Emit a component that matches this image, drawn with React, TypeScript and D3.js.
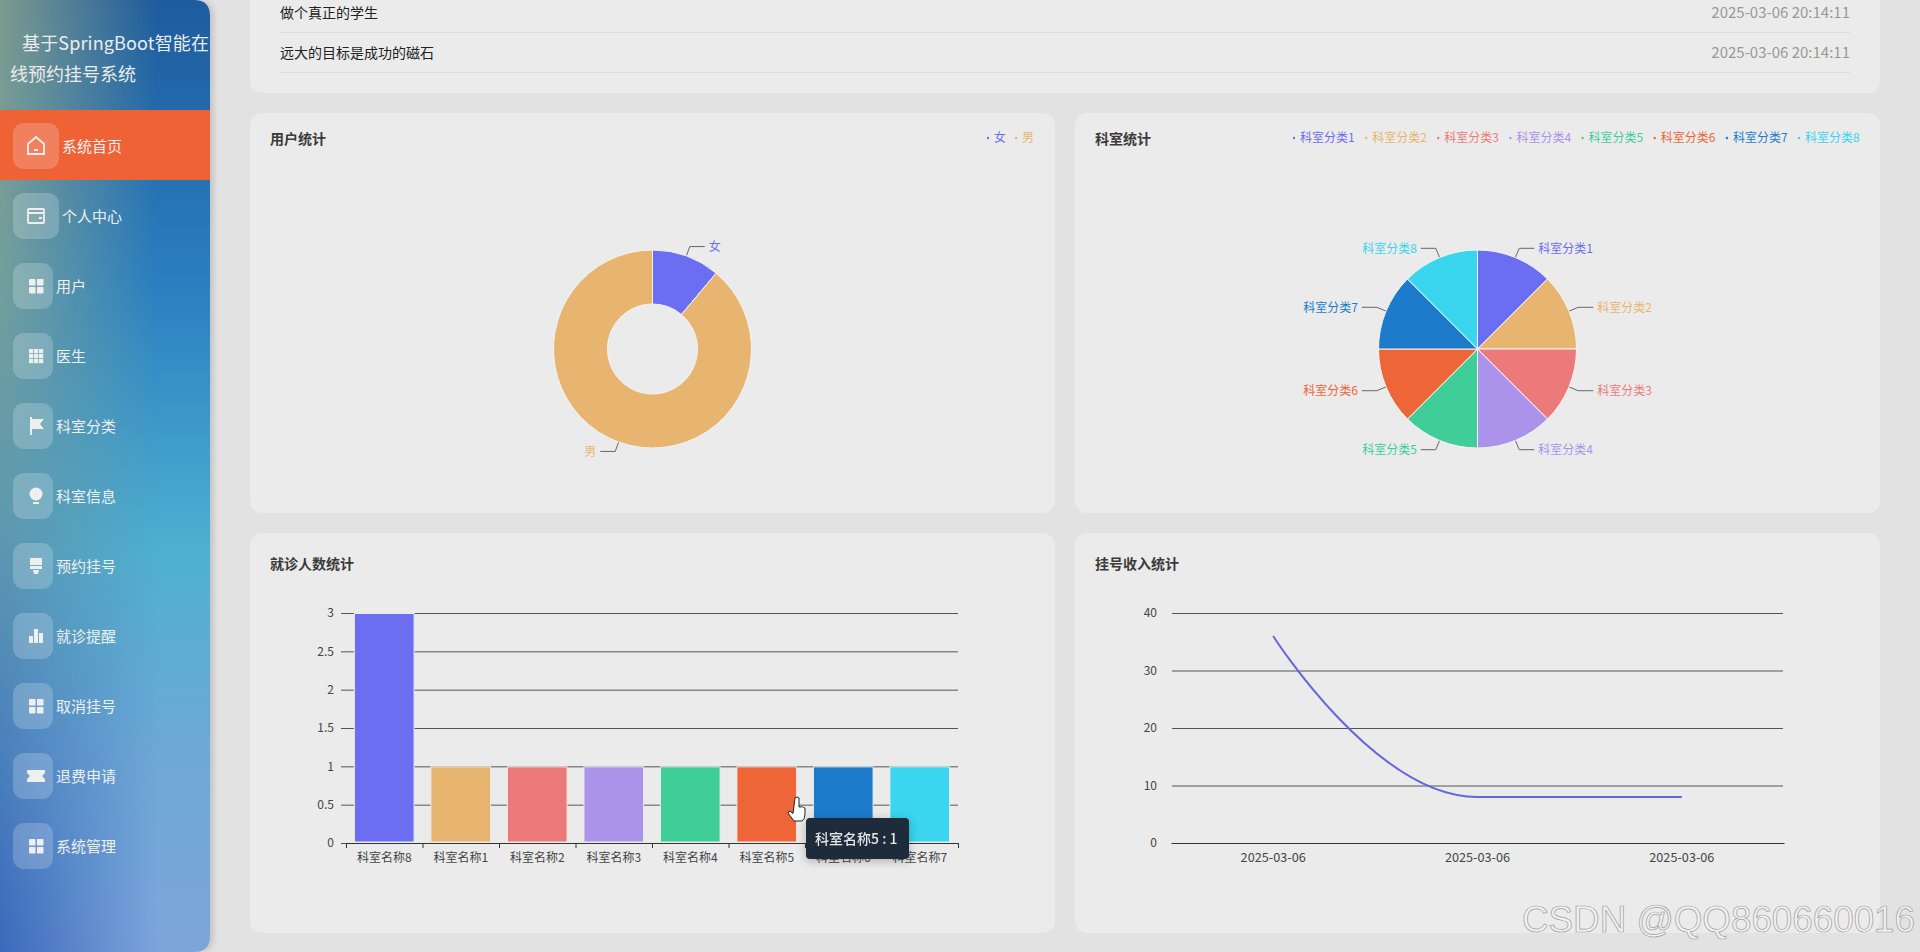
import { useEffect, useRef } from "react";
import * as d3 from "d3";

const FONT = '"Noto Sans CJK SC", "Noto Sans", sans-serif';

const menuLabels = ["系统首页", "个人中心", "用户", "医生", "科室分类", "科室信息", "预约挂号", "就诊提醒", "取消挂号", "退费申请", "系统管理"];
const menuIcons = ["home", "wallet", "grid", "table", "flag", "bulb", "stamp", "bars", "grid", "ticket", "grid"];

const noticeTitles = ["做个真正的学生", "远大的目标是成功的磁石"];
const noticeTimes = ["2025-03-06 20:14:11", "2025-03-06 20:14:11"];

const palette = ["#6b6ef0", "#e8b570", "#ed7a7a", "#ab93ea", "#3fce97", "#ee6538", "#1c7ccb", "#3ad5ee"];

const genderLabels = ["女", "男"];
const genderValues = [1, 8];

const deptLabels = ["科室分类1", "科室分类2", "科室分类3", "科室分类4", "科室分类5", "科室分类6", "科室分类7", "科室分类8"];
const deptValues = [1, 1, 1, 1, 1, 1, 1, 1];

const barLabels = ["科室名称8", "科室名称1", "科室名称2", "科室名称3", "科室名称4", "科室名称5", "科室名称6", "科室名称7"];
const barValues = [3, 1, 1, 1, 1, 1, 1, 1];
const barTicks = [0, 0.5, 1, 1.5, 2, 2.5, 3];

const lineDates = ["2025-03-06", "2025-03-06", "2025-03-06"];
const lineValues = [36, 8, 8];
const lineTicks = [0, 10, 20, 30, 40];

const cards = [
  { x: 250, y: 113, w: 805, h: 400, title: "用户统计", titleY: 26 },
  { x: 1075, y: 113, w: 805, h: 400, title: "科室统计", titleY: 26 },
  { x: 250, y: 533, w: 805, h: 400, title: "就诊人数统计", titleY: 31 },
  { x: 1075, y: 533, w: 805, h: 400, title: "挂号收入统计", titleY: 31 },
];

function MenuIcon({ name, cx, cy }: { name: string; cx: number; cy: number }) {
  const c = "#eef0f0";
  let body = null;
  if (name === "home") {
    body = (
      <g fill="none" stroke={c} strokeWidth={1.8}>
        <path d="M-8 -2 L0 -9 L8 -2 V8 H-8 Z" />
        <path d="M-2 4 H2" />
      </g>
    );
  } else if (name === "wallet") {
    body = (
      <g fill="none" stroke={c} strokeWidth={1.8}>
        <rect x={-8} y={-7} width={16} height={14} rx={1} />
        <path d="M-8 -3 H8 M3 2 H6" />
      </g>
    );
  } else if (name === "grid") {
    body = (
      <g fill={c}>
        {[-7, 1].map((x) => [-7, 1].map((y) => <rect key={`${x}${y}`} x={x} y={y} width={6.5} height={6.5} rx={0.8} />))}
      </g>
    );
  } else if (name === "table") {
    body = (
      <g fill={c}>
        {[-7, -2, 3].map((x) => [-7, -2, 3].map((y) => <rect key={`${x}${y}`} x={x} y={y} width={4.2} height={4.2} />))}
      </g>
    );
  } else if (name === "flag") {
    body = <path fill={c} d="M-6 -9 H-4 V-7 H8 L4 -2 L8 3 H-4 V9 H-6 Z" />;
  } else if (name === "bulb") {
    body = (
      <g fill={c}>
        <circle cx={0} cy={-2} r={6.5} />
        <rect x={-3} y={6} width={6} height={2} />
      </g>
    );
  } else if (name === "stamp") {
    body = (
      <g fill={c}>
        <rect x={-6} y={-8} width={12} height={7} />
        <rect x={-6} y={0} width={12} height={3} />
        <path d="M-3 4 H3 L2 8 H-2 Z" />
      </g>
    );
  } else if (name === "bars") {
    body = (
      <g fill={c}>
        <rect x={-7} y={0} width={4} height={7} />
        <rect x={-2} y={-7} width={4} height={14} />
        <rect x={3} y={-3} width={4} height={10} />
      </g>
    );
  } else if (name === "ticket") {
    body = <path fill={c} d="M-9 -6 H9 V-3 L6 0 L9 3 V6 H-9 V3 L-6 0 L-9 -3 Z" />;
  }
  return <g transform={`translate(${cx},${cy})`}>{body}</g>;
}

function drawLegend(g: d3.Selection<SVGGElement, unknown, null, undefined>, labels: string[], xs: number[], y: number) {
  labels.forEach((label, i) => {
    g.append("circle").attr("cx", xs[i] - 6).attr("cy", y).attr("r", 1.2).attr("fill", palette[i]);
    g.append("text")
      .attr("x", xs[i])
      .attr("y", y)
      .attr("dy", "0.35em")
      .attr("font-size", 12)
      .attr("fill", palette[i])
      .text(label);
  });
}

function drawPie(
  g: d3.Selection<SVGGElement, unknown, null, undefined>,
  cx: number,
  cy: number,
  inner: number,
  outer: number,
  labels: string[],
  values: number[],
) {
  const pie = d3.pie<number>().sort(null);
  const arc = d3.arc<d3.PieArcDatum<number>>().innerRadius(inner).outerRadius(outer);
  const root = g.append("g").attr("transform", `translate(${cx},${cy})`);

  pie(values).forEach((d, i) => {
    const mid = (d.startAngle + d.endAngle) / 2;
    const side = Math.sin(mid) >= 0 ? 1 : -1;
    const ex = Math.sin(mid) * (outer + 10);
    const ey = -Math.cos(mid) * (outer + 10);
    const line = d3.line();
    root
      .append("path")
      .attr("d", line([
        [Math.sin(mid) * outer, -Math.cos(mid) * outer],
        [ex, ey],
        [ex + side * 15, ey],
      ]))
      .attr("fill", "none")
      .attr("stroke", "#666")
      .attr("stroke-width", 1);
    root
      .append("text")
      .attr("x", ex + side * 19)
      .attr("y", ey)
      .attr("dy", "0.35em")
      .attr("text-anchor", side > 0 ? "start" : "end")
      .attr("font-size", 12)
      .attr("fill", palette[i])
      .text(labels[i]);
  });

  root
    .selectAll("path.slice")
    .data(pie(values))
    .enter()
    .append("path")
    .attr("class", "slice")
    .attr("d", (d) => arc(d)!)
    .attr("fill", (_, i) => palette[i])
    .attr("stroke", "#f4f4f4")
    .attr("stroke-width", 1);
}

function drawBars(g: d3.Selection<SVGGElement, unknown, null, undefined>) {
  const x = d3.scaleBand<string>().domain(barLabels).range([346, 958]);
  const y = d3.scaleLinear().domain([0, 3]).range([843, 613]);

  const grid = g.append("g").attr("transform", "translate(346,0)").call(
    d3.axisLeft(y).tickValues(barTicks).tickSize(-612).tickFormat(() => ""),
  );
  grid.select(".domain").remove();
  grid.selectAll("line").attr("stroke", "#555");

  const yAxis = g.append("g").attr("transform", "translate(346,0)").call(
    d3.axisLeft(y).tickValues(barTicks).tickSize(5).tickPadding(7).tickFormat((d) => String(d)),
  );
  yAxis.select(".domain").remove();
  yAxis.selectAll("line").attr("stroke", "#555");
  yAxis.selectAll("text").attr("font-size", 12).attr("font-family", FONT).attr("fill", "#444");

  g.selectAll("rect.bar")
    .data(barValues)
    .enter()
    .append("rect")
    .attr("class", "bar")
    .attr("x", (_, i) => x(barLabels[i])! + x.bandwidth() * 0.11)
    .attr("y", (d) => y(d) + 0.5)
    .attr("width", x.bandwidth() * 0.78)
    .attr("height", (d) => y(0) - y(d) - 1.5)
    .attr("fill", (_, i) => palette[i])
    .attr("stroke", "#ebebeb")
    .attr("stroke-width", 1);

  const xAxis = g.append("g").attr("transform", "translate(0,843)").call(d3.axisBottom(x).tickSize(0).tickPadding(10));
  xAxis.select(".domain").attr("stroke", "#333");
  xAxis.selectAll("text").attr("font-size", 12).attr("font-family", FONT).attr("fill", "#444");

  // ticks sit on the band edges, not on the centres
  g.append("g")
    .selectAll("line")
    .data(d3.range(barLabels.length + 1))
    .enter()
    .append("line")
    .attr("x1", (i) => 346.5 + i * x.bandwidth())
    .attr("x2", (i) => 346.5 + i * x.bandwidth())
    .attr("y1", 843)
    .attr("y2", 848)
    .attr("stroke", "#333");
}

function drawLine(g: d3.Selection<SVGGElement, unknown, null, undefined>) {
  const keys = lineDates.map((_, i) => String(i));
  const x = d3.scaleBand<string>().domain(keys).range([1171, 1784]);
  const y = d3.scaleLinear().domain([0, 40]).range([843, 613]);

  const grid = g.append("g").attr("transform", "translate(1172,0)").call(
    d3.axisLeft(y).tickValues(lineTicks).tickSize(-611).tickPadding(15).tickFormat((d) => String(d)),
  );
  grid.select(".domain").remove();
  grid.selectAll("line").attr("stroke", "#555");
  grid.selectAll("text").attr("font-size", 12).attr("font-family", FONT).attr("fill", "#444");

  const xAxis = g.append("g").attr("transform", "translate(0,843)").call(
    d3.axisBottom(x).tickSize(0).tickPadding(10).tickFormat((_, i) => lineDates[i]),
  );
  xAxis.select(".domain").attr("stroke", "#333");
  xAxis.selectAll("text").attr("font-size", 12.7).attr("font-family", FONT).attr("fill", "#444");

  const pts = lineValues.map((v, i) => [x(keys[i])! + x.bandwidth() / 2, y(v)]);
  const p = d3.path();
  p.moveTo(pts[0][0], pts[0][1]);
  for (let i = 1; i < pts.length; i++) {
    const [x0, y0] = pts[i - 1];
    const [x1, y1] = pts[i];
    const h = x1 - x0;
    // flat control handles where the next/previous segment is level
    p.bezierCurveTo(i === 1 ? x0 : x0 + h * 0.5, y0, i === 1 ? x1 - h * 0.5 : x1, y1, x1, y1);
  }
  g.append("path")
    .attr("d", p.toString())
    .attr("fill", "none")
    .attr("stroke", "#6766d8")
    .attr("stroke-width", 2);
}

export default function App() {
  const chartsRef = useRef<SVGGElement | null>(null);

  useEffect(() => {
    if (!chartsRef.current) return;
    const g = d3.select(chartsRef.current);
    g.selectAll("*").remove();

    drawLegend(g, genderLabels, [994, 1022], 138);
    drawPie(g, 652.5, 349, 45, 99, genderLabels, genderValues);

    drawLegend(g, deptLabels, deptLabels.map((_, i) => 1300 + i * 72.15), 138);
    drawPie(g, 1477.5, 349, 0, 99, deptLabels, deptValues);

    drawBars(g);
    drawLine(g);
  }, []);

  return (
    <svg
      width={1920}
      height={952}
      viewBox="0 0 1920 952"
      style={{ position: "fixed", left: 0, top: 0, fontFamily: FONT }}
    >
      <defs>
        <linearGradient id="sideRight" x1="0" y1="0" x2="0" y2="1">
          <stop offset="0" stopColor="#1e5c9e" />
          <stop offset="0.3" stopColor="#2a7fc0" />
          <stop offset="0.58" stopColor="#4fb0d2" />
          <stop offset="0.8" stopColor="#6fa8d8" />
          <stop offset="1" stopColor="#7da5dc" />
        </linearGradient>
        <linearGradient id="sideLeft" x1="0" y1="0" x2="0" y2="1">
          <stop offset="0" stopColor="#7d9b8e" />
          <stop offset="0.3" stopColor="#749f9c" />
          <stop offset="0.55" stopColor="#5f98ad" />
          <stop offset="0.78" stopColor="#4a80bc" />
          <stop offset="1" stopColor="#3c68bb" />
        </linearGradient>
        <linearGradient id="sideFade" x1="0" y1="0" x2="1" y2="0">
          <stop offset="0" stopColor="#fff" />
          <stop offset="0.75" stopColor="#000" />
        </linearGradient>
        <mask id="sideMask" maskUnits="userSpaceOnUse" x={0} y={0} width={210} height={952}>
          <rect width={210} height={952} fill="url(#sideFade)" />
        </mask>
        <clipPath id="sideClip">
          <path d="M0 0 H194 Q210 0 210 16 V936 Q210 952 194 952 H0 Z" />
        </clipPath>
      </defs>

      <rect width={1920} height={952} fill="#e2e2e2" />

      {/* content cards */}
      <rect x={250} y={-20} width={1630} height={113} rx={12} fill="#ebebeb" />
      {noticeTitles.map((t, i) => (
        <g key={i}>
          <text x={280} y={13 + i * 40} dy="0.35em" fontSize={14} fill="#222">{t}</text>
          <text x={1850} y={13 + i * 40} dy="0.35em" fontSize={15} fill="#999" textAnchor="end">{noticeTimes[i]}</text>
          <line x1={280} x2={1850} y1={32.5 + i * 40} y2={32.5 + i * 40} stroke="#dcdcdc" />
        </g>
      ))}
      {cards.map((c) => (
        <g key={c.title}>
          <rect x={c.x} y={c.y} width={c.w} height={c.h} rx={12} fill="#ebebeb" />
          <text x={c.x + 20} y={c.y + c.titleY} dy="0.35em" fontSize={14} fontWeight={700} fill="#3a3a3a">{c.title}</text>
        </g>
      ))}

      <g ref={chartsRef} />

      {/* tooltip and cursor from the screenshot */}
      <g style={{ filter: "drop-shadow(0 2px 5px rgba(0,0,0,0.25))" }}>
        <rect x={806} y={818} width={103} height={41} rx={4} fill="#1e2b3a" />
        <text x={815} y={839} dy="0.35em" fontSize={14} fontWeight={500} fill="#e6e6e6">科室名称5 : 1</text>
      </g>
      <path
        d="M795 798 q2 -2 4 0 v9 l2 0 q1.500 -1 2.500 0.500 l1.500 0.500 v6 q0 5 -3 7 h-8 l-6 -8 q0 -2 2.500 -1.500 l2.500 2 Z"
        fill="#fff"
        stroke="#222"
        strokeWidth={1}
      />

      {/* sidebar */}
      <g style={{ filter: "drop-shadow(3px 0 3px rgba(0,0,0,0.15))" }}>
        <g clipPath="url(#sideClip)">
          <rect width={210} height={952} fill="url(#sideRight)" />
          <rect width={210} height={952} fill="url(#sideLeft)" mask="url(#sideMask)" />
          <rect y={110} width={210} height={70} fill="#ee6236" />
        </g>
      </g>
      <text x={22} y={44} dy="0.35em" fontSize={18} textLength={187} fill="#ececec">基于SpringBoot智能在</text>
      <text x={10} y={75} dy="0.35em" fontSize={18} fill="#ececec">线预约挂号系统</text>
      {menuLabels.map((label, i) => {
        const top = 123 + i * 70;
        const wide = i < 2;
        return (
          <g key={label}>
            <rect x={13} y={top} width={wide ? 46 : 40} height={46} rx={11} fill="#fff" fillOpacity={0.2} />
            <MenuIcon name={menuIcons[i]} cx={36} cy={top + 23} />
            <text x={wide ? 62 : 56} y={top + 24} dy="0.35em" fontSize={15} fill="#efefef">{label}</text>
          </g>
        );
      })}

      {/* watermark */}
      <text
        x={1522}
        y={932}
        fontSize={36}
        textLength={393}
        lengthAdjust="spacingAndGlyphs"
        fontFamily='"Liberation Sans", sans-serif'
        fill="#f1f1f1"
        stroke="#a0a0a0"
        strokeWidth={0.7}
      >
        CSDN @QQ860660016
      </text>
    </svg>
  );
}
